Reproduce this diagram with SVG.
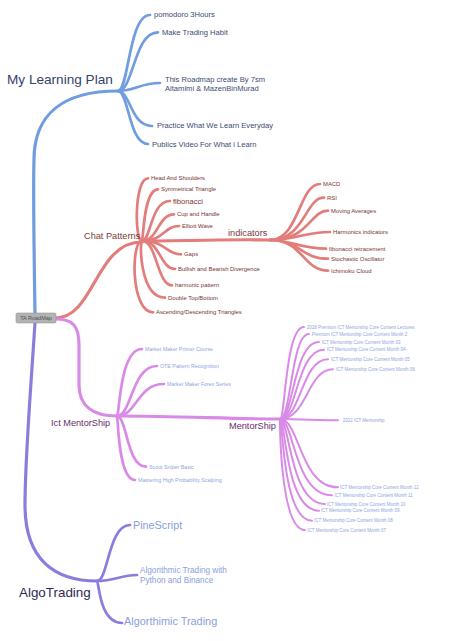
<svg xmlns="http://www.w3.org/2000/svg" width="474" height="641" viewBox="0 0 474 641">
<style>
path{fill:none;stroke-linecap:round}
.bl{stroke:#6f9de0}
.rd{stroke:#e27d7b}
.vi{stroke:#d98ae6}
.pu{stroke:#8a7ddc}
.w3{stroke-width:3.2}
.w2{stroke-width:2.7}
.w1{stroke-width:2}
text{font-family:"Liberation Sans",Arial,sans-serif}
.tb{fill:#3a4a72;font-size:7.6px}
.tr{fill:#7a3434;font-size:5.9px}
.tm{fill:#8ea6e0;font-size:4.5px}
.ti{fill:#8ea6e0;font-size:5.3px}
.ta{fill:#8aa0dc}
</style>
<rect width="474" height="641" fill="#ffffff"/>
<g id="connectors">
<path class="bl w3" d="M35,313 C34,250 33,190 34,160 C34,115 62,91 118,91"/>
<path class="rd w3" d="M55,318 C95,318 95,242 142,242"/>
<path class="vi w3" d="M55,319 C72,319 79,325 79,345 L79,385 C79,405 92,416 117,416"/>
<path class="pu w3" d="M35,323 C30,400 25,460 25,505 C25,560 55,581 97,581"/>
<path class="bl w2" d="M118,91 C128.7,91 128.7,15 150,15"/>
<path class="bl w2" d="M118,91 C133.7,91 133.7,32.3 158,32.3"/>
<path class="bl w2" d="M118,91 C135,91 140,83 160,83"/>
<path class="bl w2" d="M118,91 C130.5,91 130.5,126 152,126"/>
<path class="bl w2" d="M118,91 C128.7,91 128.7,144 148,144"/>
<path class="rd w2" d="M142,241 C134.3,241 134.3,178.3 148,178.3"/>
<path class="rd w2" d="M142,241 C143.3,241 143.3,189.3 158,189.3"/>
<path class="rd w2" d="M142,241 C150.7,241 150.7,201 170,201"/>
<path class="rd w2" d="M142,241 C158,241 158,214.3 174,214.3"/>
<path class="rd w2" d="M142,241 C163.8,241 163.8,226 179,226"/>
<path class="rd w2" d="M142,241 C166,241 166,254.3 181,254.3"/>
<path class="rd w2" d="M142,241 C160.3,241 160.3,269 175,269"/>
<path class="rd w2" d="M142,241 C157,241 157,285.3 172,285.3"/>
<path class="rd w2" d="M142,241 C139.5,241 139.5,297.7 165,297.7"/>
<path class="rd w2" d="M142,241 C130.7,241 130.7,312.3 153,312.3"/>
<path class="rd w3" d="M142,241 C200,241 230,239 270,240"/>
<path class="rd w2" d="M270,240 C299,240 299,184 320,184"/>
<path class="rd w2" d="M270,240 C305,240 305,197.7 324,197.7"/>
<path class="rd w2" d="M270,240 C309.7,240 309.7,210.7 328,210.7"/>
<path class="rd w2" d="M270,240 C295,240 305,232 330,232"/>
<path class="rd w2" d="M270,240 C290,240 300,248.7 326,248.7"/>
<path class="rd w2" d="M270,240 C300.3,240 300.3,258.7 328,258.7"/>
<path class="rd w2" d="M270,240 C303,240 303,270.7 328,270.7"/>
<path class="vi w2" d="M117,416 C119.5,416 119.5,349 142,349"/>
<path class="vi w2" d="M117,416 C131.7,416 131.7,366 157,366"/>
<path class="vi w2" d="M117,416 C137,416 137,384 164,384"/>
<path class="vi w2" d="M117,416 C126.8,416 126.8,466.7 146,466.7"/>
<path class="vi w2" d="M117,416 C118,416 118,480 135,480"/>
<path class="vi w3" d="M117,416 C180,416 230,419 280,419"/>
<path class="vi w1" d="M280,419 C285.3,419 285.3,327 304,327"/>
<path class="vi w1" d="M280,419 C291.2,419 291.2,334 309,334"/>
<path class="vi w1" d="M280,419 C293.5,419 293.5,342 319,342"/>
<path class="vi w1" d="M280,419 C296.7,419 296.7,349.7 324,349.7"/>
<path class="vi w1" d="M280,419 C301.3,419 301.3,359.3 328,359.3"/>
<path class="vi w1" d="M280,419 C307.2,419 307.2,369.3 333,369.3"/>
<path class="vi w1" d="M280,419 C300,419 320,420.3 338,420.3"/>
<path class="vi w1" d="M280,419 C299.7,419 299.7,487.3 338,487.3"/>
<path class="vi w1" d="M280,419 C294,419 294,495.3 332,495.3"/>
<path class="vi w1" d="M280,419 C289.8,419 289.8,504 325,504"/>
<path class="vi w1" d="M280,419 C285.5,419 285.5,510.7 319,510.7"/>
<path class="vi w1" d="M280,419 C282.7,419 282.7,520.7 312,520.7"/>
<path class="vi w1" d="M280,419 C279.8,419 279.8,530 305,530"/>
<path class="pu w2" d="M97,581 C108.3,581 108.3,525 130,525"/>
<path class="pu w2" d="M97,581 C115,581 120,575 137,575"/>
<path class="pu w2" d="M97,581 C99,581 99,623 122,623"/>
</g>
<g id="root">
<rect x="16" y="313" width="40" height="10" rx="1.5" fill="#b3b3b3" stroke="#999999" stroke-width="0.6"/>
<text x="36" y="320.2" font-size="5.5" fill="#505050" text-anchor="middle">TA RoadMap</text>
</g>
<g id="plan"><text x="7" y="84" font-size="13.6" fill="#34436b">My Learning Plan</text></g>
<g id="pomodoro"><text class="tb" x="154" y="17">pomodoro 3Hours</text></g>
<g id="habit"><text class="tb" x="162" y="34.7">Make Trading Habit</text></g>
<g id="roadmap"><text class="tb" x="165" y="82.2">This Roadmap create By 7sm</text><text class="tb" x="165" y="91.2">Altamimi &amp; MazenBinMurad</text></g>
<g id="practice"><text class="tb" x="157" y="128.2">Practice What We Learn Everyday</text></g>
<g id="publics"><text class="tb" x="152" y="146.5">Publics Video For What i Learn</text></g>
<g id="chat"><text x="84" y="238.5" font-size="9.2" fill="#7a3a3a">Chat Patterns</text></g>
<g id="head"><text class="tr" x="151" y="180.3">Head And Shoulders</text></g>
<g id="sym"><text class="tr" x="161" y="191.3">Symmetrical Triangle</text></g>
<g id="fib"><text x="173" y="203.6" font-size="7.6" fill="#7a3434">fibonacci</text></g>
<g id="cup"><text class="tr" x="177" y="216.3">Cup and Handle</text></g>
<g id="elliott"><text class="tr" x="182" y="228">Elliott Wave</text></g>
<g id="gaps"><text class="tr" x="184" y="256.3">Gaps</text></g>
<g id="bullish"><text class="tr" x="178" y="271">Bullish and Bearish Divergence</text></g>
<g id="harmonic"><text class="tr" x="175" y="287.3">harmonic pattern</text></g>
<g id="double"><text class="tr" x="168" y="299.7">Double Top/Bottom</text></g>
<g id="asc"><text class="tr" x="156" y="314.3">Ascending/Descending Triangles</text></g>
<g id="indicators"><text x="228" y="236" font-size="9.2" fill="#7a3a3a">indicators</text></g>
<g id="macd"><text class="tr" x="323" y="186">MACD</text></g>
<g id="rsi"><text class="tr" x="327" y="199.7">RSI</text></g>
<g id="ma"><text class="tr" x="331" y="212.7">Moving Averages</text></g>
<g id="harmind"><text class="tr" x="333" y="234">Harmonics indicators</text></g>
<g id="fibret"><text class="tr" x="329" y="250.7">fibonacci retracement</text></g>
<g id="stoch"><text class="tr" x="331" y="260.7">Stochastic Oscillator</text></g>
<g id="ichimoku"><text class="tr" x="331" y="272.7">Ichimoku Cloud</text></g>
<g id="ict"><text x="51" y="425.5" font-size="9.2" fill="#6a2d6a">Ict MentorShip</text></g>
<g id="primer"><text class="ti" x="145" y="351">Market Maker Primer Course</text></g>
<g id="ote"><text class="ti" x="160" y="368">OTE Pattern Recognition</text></g>
<g id="forex"><text class="ti" x="167" y="386.1" font-size="6">Market Maker Forex Series</text></g>
<g id="scout"><text class="ti" x="149" y="468.7">Scout Sniper Basic</text></g>
<g id="scalping"><text class="ti" x="138" y="482.2" font-size="6">Mastering High Probability Scalping</text></g>
<g id="mentorship"><text x="229" y="428.5" font-size="9.2" fill="#6a2d6a">MentorShip</text></g>
<g id="m2018"><text class="tm" x="306.7" y="328.5">2018 Premium ICT Mentorship Core Content Lectures</text></g>
<g id="mm2"><text class="tm" x="311.7" y="335.5">Premium ICT Mentorship Core Content Month 2</text></g>
<g id="m03"><text class="tm" x="321.7" y="343.5">ICT Mentorship Core Content Month 03</text></g>
<g id="m04"><text class="tm" x="326.7" y="351.2">ICT Mentorship Core Content Month 04</text></g>
<g id="m05"><text class="tm" x="331" y="360.8">ICT Mentorship Core Content Month 05</text></g>
<g id="m06"><text class="tm" x="336" y="370.8">ICT Mentorship Core Content Month 06</text></g>
<g id="m2022"><text class="tm" x="342.7" y="421.8">2022 ICT Mentorship</text></g>
<g id="m12"><text class="tm" x="340" y="488.8">ICT Mentorship Core Content Month 12</text></g>
<g id="m11"><text class="tm" x="334.3" y="496.8">ICT Mentorship Core Content Month 11</text></g>
<g id="m10"><text class="tm" x="326.7" y="505.5">ICT Mentorship Core Content Month 10</text></g>
<g id="m09"><text class="tm" x="320.7" y="512.2">ICT Mentorship Core Content Month 09</text></g>
<g id="m08"><text class="tm" x="314" y="522.2">ICT Mentorship Core Content Month 08</text></g>
<g id="m07"><text class="tm" x="307.3" y="531.5">ICT Mentorship Core Content Month 07</text></g>
<g id="algo"><text x="19" y="597" font-size="13.4" fill="#2e2a55">AlgoTrading</text></g>
<g id="pine"><text class="ta" x="133" y="528.6" font-size="10.8">PineScript</text></g>
<g id="python"><text class="ta" x="140" y="573.3" font-size="8.2">Algorithmic Trading with</text><text class="ta" x="140" y="582.8" font-size="8.2">Python and Binance</text></g>
<g id="algtr"><text class="ta" x="124" y="625.2" font-size="10.9">Algorthimic Trading</text></g>
</svg>
